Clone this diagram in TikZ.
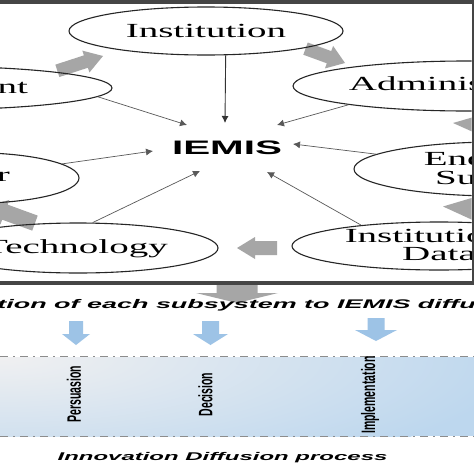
\documentclass[tikz,border=0pt]{standalone}
\usepackage{fontspec}
\setmainfont{Liberation Serif}
\setsansfont{Liberation Sans}
\usepackage{graphicx}
\usetikzlibrary{shapes.geometric,arrows.meta}
\definecolor{fatgray}{HTML}{A6A6A6}
\definecolor{lblue}{HTML}{9DC3E6}
\definecolor{bandblue}{HTML}{BDD7EE}
\definecolor{bandgray}{HTML}{F0F0F1}
\definecolor{framegray}{HTML}{454545}
% #1 colour, #2 tip, #3 direction, #4 length, #5 shaft width, #6 head width, #7 head length
\newcommand\fatarrow[7]{\fill[#1,shift={#2},rotate=#3] (0,0) -- (-#7,#6/2) -- (-#7,#5/2) -- (-#4,#5/2) -- (-#4,-#5/2) -- (-#7,-#5/2) -- (-#7,-#6/2) -- cycle;}
\newcommand\sx[2]{\scalebox{#1}[1]{#2}}
\begin{document}
\begin{tikzpicture}[x=1pt,y=-1pt,
  ell/.style={ellipse, draw=black!85, line width=1.1pt, inner sep=0pt},
  etext/.style={inner sep=0pt, font=\fontsize{20}{18.5}\selectfont},
  feed/.style={draw=black!65, line width=0.7pt, -{Latex[length=7pt,width=7pt]}},
  dashline/.style={draw=black!45, line width=1.3pt, dash pattern=on 8pt off 5pt on 2pt off 5pt},
  bandtext/.style={inner sep=0pt, font=\sffamily\bfseries\fontsize{10.5}{12}\selectfont},
  boldit/.style={inner sep=0pt}]
\useasboundingbox (0,0) rectangle (474,474);
\fill[white] (0,0) rectangle (474,474);

% ---- innovation diffusion band ----
\fill[bandblue] (0,357) rectangle (474,436);
\begin{scope}
  \clip (0,357) rectangle (474,436);
  \shade[inner color=bandgray, outer color=bandblue] (0,357) ellipse [x radius=520, y radius=130];
\end{scope}
\draw[dashline] (0,356.5) -- (474,356.5);
\draw[dashline] (0,436.5) -- (474,436.5);
\node[bandtext] (pers) at (74,394) {\sx{1.85}{\rotatebox{90}{Persuasion}}};
\node[bandtext] (deci) at (205.5,394.5) {\sx{1.85}{\rotatebox{90}{Decision}}};
\node[bandtext] (impl) at (370,395) {\sx{1.85}{\rotatebox{90}{Implementation}}};

% blue arrows
\fatarrow{lblue}{(76,345)}{-90}{24}{14}{28}{11}
\fatarrow{lblue}{(210.5,345)}{-90}{24}{17}{35}{11}
\fatarrow{lblue}{(376,341)}{-90}{23}{17}{42}{11}

% big gray arrow
\fatarrow{fatgray}{(237,303)}{-90}{20}{41}{82}{10}

\node[boldit, anchor=base west, font=\sffamily\bfseries\itshape\fontsize{12.5}{14}\selectfont] (contrib) at (54,308.3)
  {\sx{2.155}{\llap{Contribution }of each subsystem to IEMIS diffusion}};
\node[boldit, anchor=base, font=\sffamily\bfseries\itshape\fontsize{11.2}{13}\selectfont] (idp) at (222.5,460.5)
  {\sx{2.14}{Innovation Diffusion process}};

% ---- subsystem panel ----
\begin{scope}
  \clip (0,3.5) rectangle (471.5,281);
  % cycle arrows
  \fatarrow{fatgray}{(103,56)}{18}{48}{13}{23}{18}
  \fatarrow{fatgray}{(345,63)}{-20}{42}{13}{24}{17}
  \fatarrow{fatgray}{(453,123)}{176}{50}{12}{22}{30}
  \fatarrow{fatgray}{(443,206.5)}{176}{50}{12}{24}{32}
  \fatarrow{fatgray}{(237,248)}{180}{40}{14}{22}{18}
  \fatarrow{fatgray}{(-12,206)}{160}{50}{16}{26}{18}

  % ellipses
  \node[ell, minimum width=274pt, minimum height=48pt] (inst) at (206,31) {};
  \node[ell, minimum width=348pt, minimum height=50pt] (adm) at (467,86) {};
  \node[ell, minimum width=363pt, minimum height=43.4pt] (gov) at (-69.5,88) {};
  \node[ell, minimum width=212pt, minimum height=50.6pt] (user) at (-27,178) {};
  \node[ell, minimum width=286pt, minimum height=54pt] (eus) at (497,169) {};
  \node[ell, minimum width=280pt, minimum height=50pt] (tech) at (78,248) {};
  \node[ell, minimum width=294pt, minimum height=48pt] (idata) at (439,246) {};

  % ellipse texts
  \node[etext] (inst-t) at (206,31.2) {\sx{1.95}{Institution}};
  \node[etext] (adm-t) at (467,83.5) {\sx{1.95}{Administration}};
  \node[etext] (gov-t) at (-69.5,87.3) {\sx{1.95}{Government}};
  \node[etext] (user-t) at (-27,175) {\sx{1.95}{User}};
  \node[etext] (eus-t) at (497,170.5) {\sx{1.95}{\begin{tabular}{@{}c@{}}End User\\Support\end{tabular}}};
  \node[etext] (tech-t) at (76,248.3) {\sx{1.95}{Technology}};
  \node[etext] (idata-t) at (439,247.5) {\sx{1.95}{\begin{tabular}{@{}c@{}}Institutional\\Data\end{tabular}}};

  % centre
  \node[inner sep=0pt, font=\sffamily\bfseries\fontsize{19.5}{22}\selectfont] (iemis) at (227,148) {\sx{2.07}{IEMIS}};

  % arrow tips near IEMIS
  \coordinate (tA) at (225,123);
  \coordinate (tB) at (187,125);
  \coordinate (tC) at (153,151);
  \coordinate (tD) at (200,171);
  \coordinate (tE) at (277,125);
  \coordinate (tF) at (293,144);
  \coordinate (tG) at (267,172);
  \draw[feed, draw=black!80, line width=0.9pt] (inst.-51.6) -- (tA);
  \draw[feed] (gov.-3.5) -- (tB);
  \draw[feed] (user.9.4) -- (tC);
  \draw[feed] (tech.60.6) -- (tD);
  \draw[feed] (adm.-171) -- (tE);
  \draw[feed] (eus.173.4) -- (tF);
  \draw[feed] (idata.165.7) -- (tG);
\end{scope}

% frame
\draw[framegray, line width=3.5pt] (0,1.75) -- (474,1.75);
\draw[framegray, line width=2.2pt] (472.6,0) -- (472.6,283);
\draw[framegray, line width=4pt] (0,283) -- (474,283);
\end{tikzpicture}
\end{document}
